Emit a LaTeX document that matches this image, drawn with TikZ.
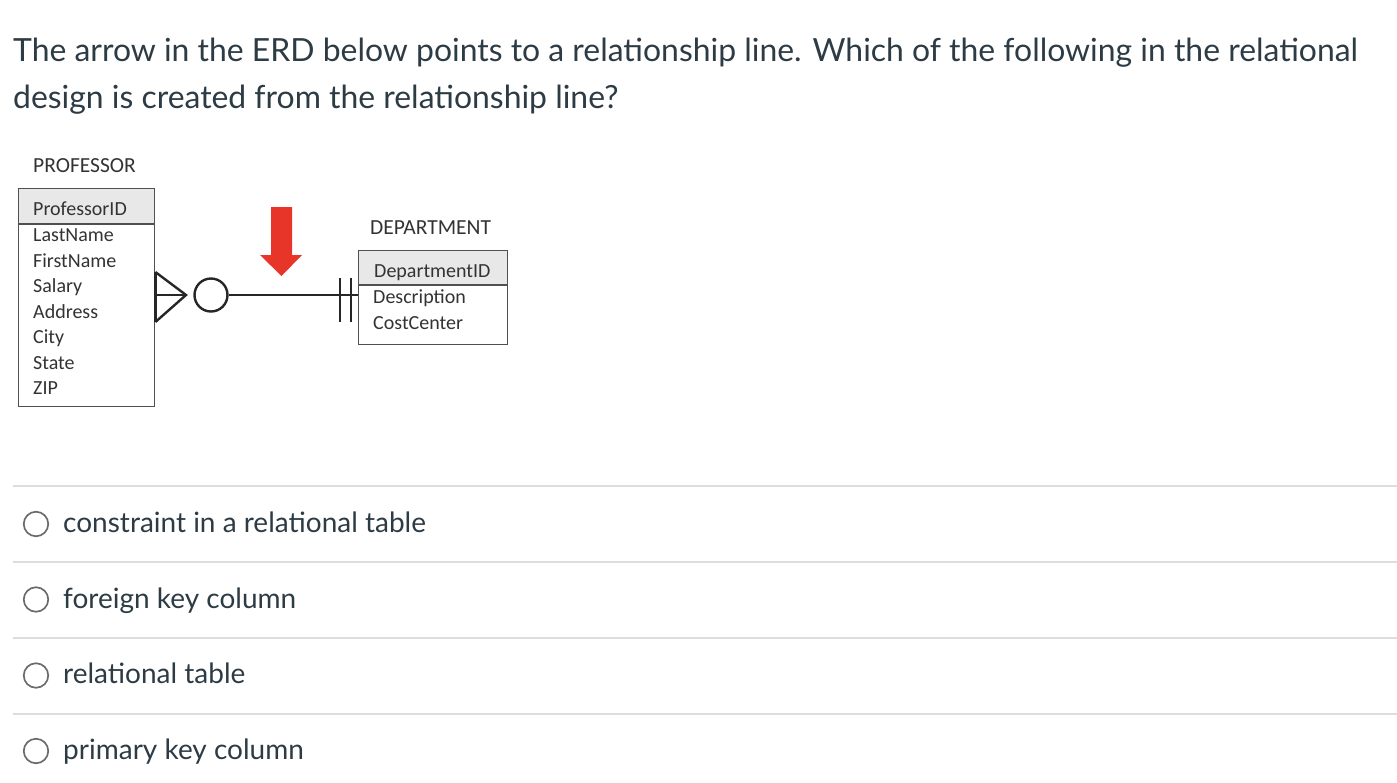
\documentclass[tikz,border=0pt]{standalone}
\usepackage{fontspec}
\setmainfont{Lato}
\newfontfamily\erdfont{Carlito}
\usetikzlibrary{calc}
\definecolor{txt}{HTML}{2D3B45}
\definecolor{sep}{HTML}{DDDDDD}
\definecolor{radio}{HTML}{6B6B6B}
\definecolor{erdline}{HTML}{505050}
\definecolor{erdtxt}{HTML}{333333}
\definecolor{hdr}{HTML}{E8E8E8}
\definecolor{arrowred}{HTML}{E8352A}
\begin{document}
\begin{tikzpicture}[x=1pt,y=-1pt,
  qtext/.style={anchor=base west, inner sep=0, text=txt, font=\fontsize{31.9}{36}\selectfont},
  opttext/.style={anchor=base west, inner sep=0, text=txt, font=\fontsize{28}{32}\selectfont},
  radiobtn/.style={circle, draw=radio, line width=1.7, minimum size=24.5, inner sep=0},
  sepline/.style={draw=sep, line width=1.6},
  field/.style={anchor=base west, inner sep=0, text=erdtxt, font=\erdfont\fontsize{20}{24}\selectfont},
  entlabel/.style={anchor=base west, inner sep=0, text=erdtxt, font=\erdfont\fontsize{21.5}{25}\selectfont},
  entbox/.style={draw=erdline, line width=1.4, anchor=north west, inner sep=0},
  crow/.style={draw=black!85, line width=2.4},
]
\useasboundingbox (0,0) rectangle (1397,782);

% question
\node[qtext] (q1) at (13,61.5) {The arrow in the ERD below points to a relationship line. Which of the following in the relational};
\node[qtext] (q2) at (13,108.5) {design is created from the relationship line?};

% PROFESSOR entity
\node[entlabel] (proflabel) at (33,172) {PROFESSOR};
\fill[hdr] (18,188) rectangle (154,224);
\node[entbox, minimum width=136, minimum height=218] (prof) at (18,188) {};
\draw[draw=erdline, line width=1.4] (18,224) -- (154,224);
\node[field] (pid) at (33,215.5) {ProfessorID};
\node[field] (f1) at (33,241.5) {LastName};
\node[field] (f2) at (33,267) {FirstName};
\node[field] (f3) at (33,292.5) {Salary};
\node[field] (f4) at (33,318) {Address};
\node[field] (f5) at (33,343.5) {City};
\node[field] (f6) at (33,369) {State};
\node[field] (f7) at (33,394.5) {ZIP};

% DEPARTMENT entity
\node[entlabel] (deptlabel) at (370,234) {DEPARTMENT};
\fill[hdr] (358,250) rectangle (507,285);
\node[entbox, minimum width=149, minimum height=94] (dept) at (358,250) {};
\draw[draw=erdline, line width=1.4] (358,285) -- (507,285);
\node[field] (did) at (374,277) {DepartmentID};
\node[field] (d1) at (373,303) {Description};
\node[field] (d2) at (373,329) {CostCenter};

% relationship line
\coordinate (toe) at (186,295);
\node[circle, crow, minimum size=33, inner sep=0] (opt) at (211,295) {};
\draw[crow] (prof.east |- 0,272) -- (prof.east |- 0,322);
\draw[crow] (prof.east |- 0,272) -- (toe) -- (prof.east |- 0,322);
\draw[crow] (prof.east |- toe) -- (toe);
\draw[crow] (opt.east) -- (dept.west |- opt);
\coordinate (bar1) at (340,295);
\coordinate (bar2) at (351,295);
\draw[crow] ($(bar1)+(0,-17)$) -- ($(bar1)+(0,27)$);
\draw[crow] ($(bar2)+(0,-17)$) -- ($(bar2)+(0,27)$);

% red arrow
\fill[arrowred] (271,207) -- (292,207) -- (292,255) -- (302,255) -- (281.5,276) -- (260,255) -- (271,255) -- cycle;

% answers
\draw[sepline] (13,486) -- (1397,486);
\draw[sepline] (13,562) -- (1397,562);
\draw[sepline] (13,638) -- (1397,638);
\draw[sepline] (13,714) -- (1397,714);

\node[radiobtn] (r1) at (36,524) {};
\node[opttext] (a1) at (63,532) {constraint in a relational table};
\node[radiobtn] (r2) at (36,599.5) {};
\node[opttext] (a2) at (63,608) {foreign key column};
\node[radiobtn] (r3) at (36,675.5) {};
\node[opttext] (a3) at (63,683) {relational table};
\node[radiobtn] (r4) at (36,751) {};
\node[opttext] (a4) at (63,759) {primary key column};
\end{tikzpicture}
\end{document}
